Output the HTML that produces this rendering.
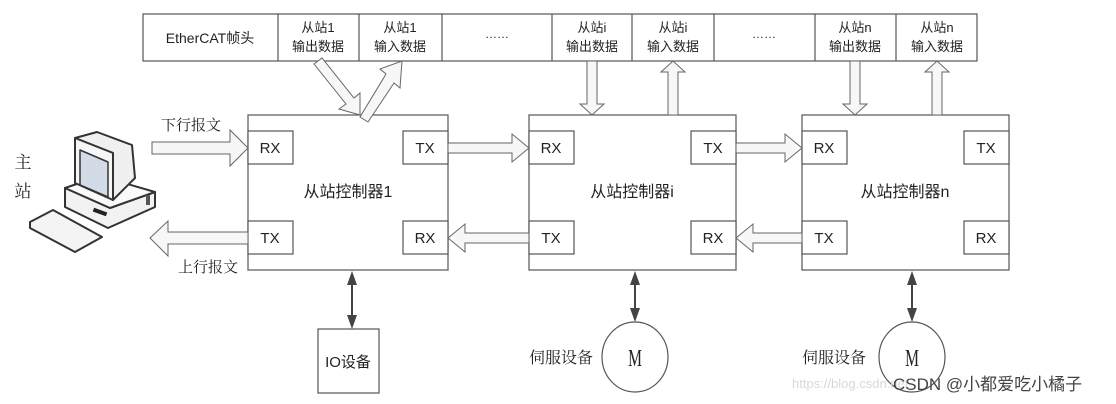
<!DOCTYPE html>
<html><head><meta charset="utf-8"><style>
body{margin:0;background:#fff}
svg{display:block}
text{font-family:"Liberation Sans","Noto Sans CJK SC",sans-serif;fill:#222}
</style></head><body>
<svg width="1116" height="404" viewBox="0 0 1116 404" xmlns="http://www.w3.org/2000/svg">
<g stroke="#555" stroke-width="1.2" fill="#fff">
<rect x="143" y="14" width="834" height="47"/>
<line x1="278" y1="14" x2="278" y2="61"/><line x1="359" y1="14" x2="359" y2="61"/>
<line x1="442" y1="14" x2="442" y2="61"/><line x1="552" y1="14" x2="552" y2="61"/>
<line x1="632" y1="14" x2="632" y2="61"/><line x1="714" y1="14" x2="714" y2="61"/>
<line x1="815" y1="14" x2="815" y2="61"/><line x1="896" y1="14" x2="896" y2="61"/>
<rect x="248" y="115" width="200" height="155"/>
<rect x="529" y="115" width="207" height="155"/>
<rect x="802" y="115" width="207" height="155"/>
<rect x="248" y="131" width="45" height="33"/><rect x="403" y="131" width="45" height="33"/>
<rect x="248" y="221" width="45" height="33"/><rect x="403" y="221" width="45" height="33"/>
<rect x="529" y="131" width="45" height="33"/><rect x="691" y="131" width="45" height="33"/>
<rect x="529" y="221" width="45" height="33"/><rect x="691" y="221" width="45" height="33"/>
<rect x="802" y="131" width="45" height="33"/><rect x="964" y="131" width="45" height="33"/>
<rect x="802" y="221" width="45" height="33"/><rect x="964" y="221" width="45" height="33"/>
<rect x="318" y="329" width="61" height="64"/>
<ellipse cx="635" cy="357" rx="33" ry="35"/>
<ellipse cx="912" cy="357" rx="33" ry="35"/>
</g>
<g stroke="#666" stroke-width="1" fill="#f7f7f7">
<path d="M152,142 L230,142 L230,130 L248,148 L230,166 L230,154 L152,154 Z"/>
<path d="M248,232 L168,232 L168,221 L150,238 L168,256 L168,244 L248,244 Z"/>
<path d="M448,143 L512,143 L512,134 L529,148 L512,162 L512,153 L448,153 Z"/>
<path d="M529,233 L465,233 L465,224 L448,238 L465,252 L465,243 L529,243 Z"/>
<path d="M736,143 L785,143 L785,134 L802,148 L785,162 L785,153 L736,153 Z"/>
<path d="M802,233 L753,233 L753,224 L736,238 L753,252 L753,243 L802,243 Z"/>
<path d="M587,61 L597,61 L597,104 L604,104 L592,115 L580,104 L587,104 Z"/>
<path d="M668,115 L678,115 L678,72 L685,72 L673,61 L661,72 L668,72 Z"/>
<path d="M850,61 L860,61 L860,104 L867,104 L855,115 L843,104 L850,104 Z"/>
<path d="M932,115 L942,115 L942,72 L949,72 L937,61 L925,72 L932,72 Z"/>
<path d="M314,64 L322,58 L354,98 L360,93 L360,115 L339,109 L346,104 Z"/>
<path d="M360,117 L368,122 L394,83 L400,88 L402,61 L380,69 L386,74 Z"/>
</g>
<g stroke="#444" stroke-width="2">
<line x1="352" y1="280" x2="352" y2="318"/>
<line x1="635" y1="280" x2="635" y2="312"/>
<line x1="912" y1="280" x2="912" y2="312"/>
</g>
<g fill="#444">
<path d="M352,271 L347,285 L357,285 Z M352,329 L347,315 L357,315 Z"/>
<path d="M635,271 L630,285 L640,285 Z M635,322 L630,308 L640,308 Z"/>
<path d="M912,271 L907,285 L917,285 Z M912,322 L907,308 L917,308 Z"/>
</g>
<g stroke="#333" stroke-width="2" stroke-linejoin="round">
<path d="M65,188 L110,208 L155,192 L155,207 L108,228 L65,207 Z" fill="#f2f2f2"/>
<path d="M65,188 L100,176 L155,192 L110,208 Z" fill="#fafafa"/>
<path d="M75,138 L97,132 L132,145 L135,178 L113,200 L113,153 Z" fill="#f0f0f0"/>
<path d="M75,138 L113,153 L113,200 L75,183 Z" fill="#f6f6f6"/>
<path d="M80,150 L108,162 L108,197 L80,185 Z" fill="#d3dbe6" stroke-width="1.5"/>
<path d="M30,222 L53,210 L102,237 L75,252 L30,228 Z" fill="#f4f4f4"/>
<line x1="30" y1="228" x2="75" y2="252" stroke-width="1"/>
<rect x="93" y="210" width="14" height="4" fill="#222" stroke="none" transform="rotate(20 100 212)"/>
<rect x="146" y="195" width="4" height="10" fill="#555" stroke="none"/>
</g>
<g font-size="14" text-anchor="middle">
<text x="210" y="43" font-size="14">EtherCAT帧头</text>
<text x="318" y="32" font-size="13">从站1</text><text x="318" y="51" font-size="13">输出数据</text>
<text x="400" y="32" font-size="13">从站1</text><text x="400" y="51" font-size="13">输入数据</text>
<text x="497" y="38" font-size="12">……</text>
<text x="592" y="32" font-size="13">从站i</text><text x="592" y="51" font-size="13">输出数据</text>
<text x="673" y="32" font-size="13">从站i</text><text x="673" y="51" font-size="13">输入数据</text>
<text x="764" y="38" font-size="12">……</text>
<text x="855" y="32" font-size="13">从站n</text><text x="855" y="51" font-size="13">输出数据</text>
<text x="937" y="32" font-size="13">从站n</text><text x="937" y="51" font-size="13">输入数据</text>
<g font-size="15">
<text x="270" y="153">RX</text><text x="425" y="153">TX</text><text x="270" y="243">TX</text><text x="425" y="243">RX</text>
<text x="551" y="153">RX</text><text x="713" y="153">TX</text><text x="551" y="243">TX</text><text x="713" y="243">RX</text>
<text x="824" y="153">RX</text><text x="986" y="153">TX</text><text x="824" y="243">TX</text><text x="986" y="243">RX</text>
</g>
<g font-size="16">
<text x="348" y="197">从站控制器1</text>
<text x="632" y="197">从站控制器i</text>
<text x="905" y="197">从站控制器n</text>
</g>
<text x="348" y="367" font-size="15">IO设备</text>
<text x="635" y="366" font-size="24" style="font-family:'Liberation Serif',serif" transform="translate(635 0) scale(0.65 1) translate(-635 0)">M</text>
<text x="912" y="366" font-size="24" style="font-family:'Liberation Serif',serif" transform="translate(912 0) scale(0.65 1) translate(-912 0)">M</text>
<text x="561" y="363" font-size="16" style="font-family:'Liberation Serif','Noto Serif CJK SC',serif">伺服设备</text>
<text x="834" y="363" font-size="16" style="font-family:'Liberation Serif','Noto Serif CJK SC',serif">伺服设备</text>
<text x="191" y="130" font-size="15" style="font-family:'Liberation Serif','Noto Serif CJK SC',serif">下行报文</text>
<text x="208" y="272" font-size="15" style="font-family:'Liberation Serif','Noto Serif CJK SC',serif">上行报文</text>
<text x="23" y="168" font-size="17" style="font-family:'Liberation Serif','Noto Serif CJK SC',serif">主</text>
<text x="23" y="197" font-size="17" style="font-family:'Liberation Serif','Noto Serif CJK SC',serif">站</text>
</g>
<text x="792" y="388" font-size="13" style="fill:#d8d8d8">https://blog.csdn.net</text>
<text x="893" y="390" font-size="17" style="fill:#444">CSDN @小都爱吃小橘子</text>
</svg>
</body></html>
